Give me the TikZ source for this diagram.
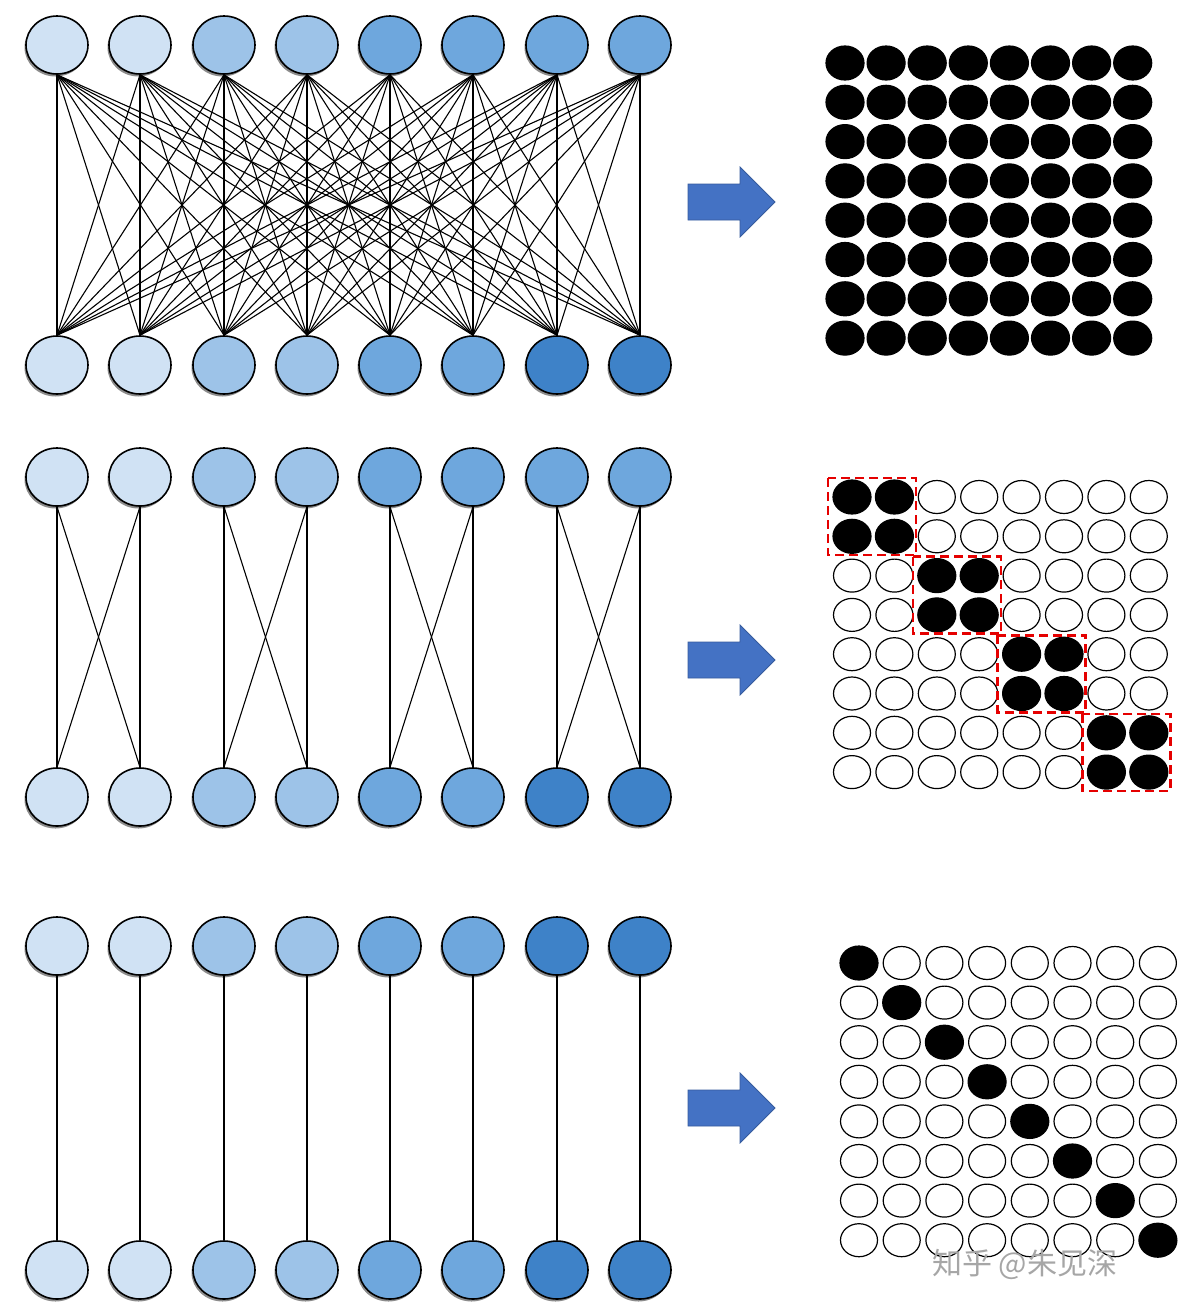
\documentclass[tikz,border=0pt]{standalone}
\usepackage{fontspec}
\newfontfamily\cjk{Noto Sans CJK SC}
\usetikzlibrary{shapes.geometric}
\definecolor{cA}{HTML}{D0E2F4}
\definecolor{cB}{HTML}{9DC3E8}
\definecolor{cC}{HTML}{6EA7DD}
\definecolor{cD}{HTML}{3E82C8}
\definecolor{arr}{HTML}{4472C4}
\tikzset{
 neuron/.style={ellipse,draw=black,line width=1.6pt,minimum width=62pt,minimum height=58pt,inner sep=0pt,
   preaction={fill=black!45,transform canvas={xshift=-1.5pt,yshift=-2.5pt}}},
 dotb/.style={ellipse,fill=black,draw=black,line width=1.2pt,minimum width=38pt,minimum height=34pt,inner sep=0pt},
 dotw/.style={ellipse,fill=white,draw=black,line width=1.2pt,minimum width=37pt,minimum height=33pt,inner sep=0pt},
 conn/.style={black,line width=1.1pt},
 blk/.style={draw=red!90!black,line width=2.6pt,dash pattern=on 9pt off 5pt},
 barrow/.style={fill=arr,draw=arr!80!black,line width=0.8pt}
}
\begin{document}
\begin{tikzpicture}[x=1pt,y=-1pt]
\useasboundingbox (0,0) rectangle (1184,1310);
\def\xs{{57,140,224,307,390,473,557,640}}
\foreach \p/\ty/\by/\tc in {1/45/365/cC,2/477/797/cC,3/946/1270/cD}{
  \foreach \i/\c in {1/cA,2/cA,3/cB,4/cB,5/cC,6/cC,7/\tc,8/\tc}{
    \pgfmathsetmacro\xx{\xs[\i-1]}
    \node[neuron,fill=\c] (t\p-\i) at (\xx,\ty) {};
  }
  \foreach \i/\c in {1/cA,2/cA,3/cB,4/cB,5/cC,6/cC,7/cD,8/cD}{
    \pgfmathsetmacro\xx{\xs[\i-1]}
    \node[neuron,fill=\c] (b\p-\i) at (\xx,\by) {};
  }
}
\foreach \i in {1,...,8}{\foreach \j in {1,...,8}{\draw[conn] (t1-\i.south) -- (b1-\j.north);}}
\foreach \i/\j in {1/1,1/2,2/1,2/2,3/3,3/4,4/3,4/4,5/5,5/6,6/5,6/6,7/7,7/8,8/7,8/8}{\draw[conn] (t2-\i.south) -- (b2-\j.north);}
\foreach \i in {1,...,8}{\draw[conn] (t3-\i.south) -- (b3-\i.north);}
% arrows
\foreach \k/\yc in {1/202,2/660,3/1108}{
  \coordinate (a\k) at (688,\yc);
  \draw[barrow] (a\k) ++(0,-18) -- ++(52,0) -- ++(0,-17) -- ++(35,35) -- ++(-35,35) -- ++(0,-17) -- ++(-52,0) -- cycle;
}
\foreach \r in {0,...,7}{\foreach \c in {0,...,7}{
  \node[dotb] (m1-\r-\c) at (845+41.1*\c,63+39.3*\r) {};}}
\foreach \r in {0,...,7}{\foreach \c in {0,...,7}{
  \pgfmathtruncatemacro\br{\r/2}\pgfmathtruncatemacro\bc{\c/2}
  \ifnum\br=\bc \node[dotb] (m2-\r-\c) at (852+42.4*\c,497+39.3*\r) {};
  \else \node[dotw] (m2-\r-\c) at (852+42.4*\c,497+39.3*\r) {};\fi}}
\foreach \k in {0,...,3}{
  \draw[blk] (828+84.8*\k,478+78.6*\k) rectangle (916+84.8*\k,555+78.6*\k);}
\foreach \r in {0,...,7}{\foreach \c in {0,...,7}{
  \ifnum\r=\c \node[dotb] (m3-\r-\c) at (859+42.7*\c,963+39.6*\r) {};
  \else \node[dotw] (m3-\r-\c) at (859+42.7*\c,963+39.6*\r) {};\fi}}
\node[text=black!35,font=\cjk\fontsize{30}{32}\selectfont,anchor=west,inner sep=0pt] (wm) at (932,1264) {知乎 @朱见深};
\end{tikzpicture}
\end{document}
